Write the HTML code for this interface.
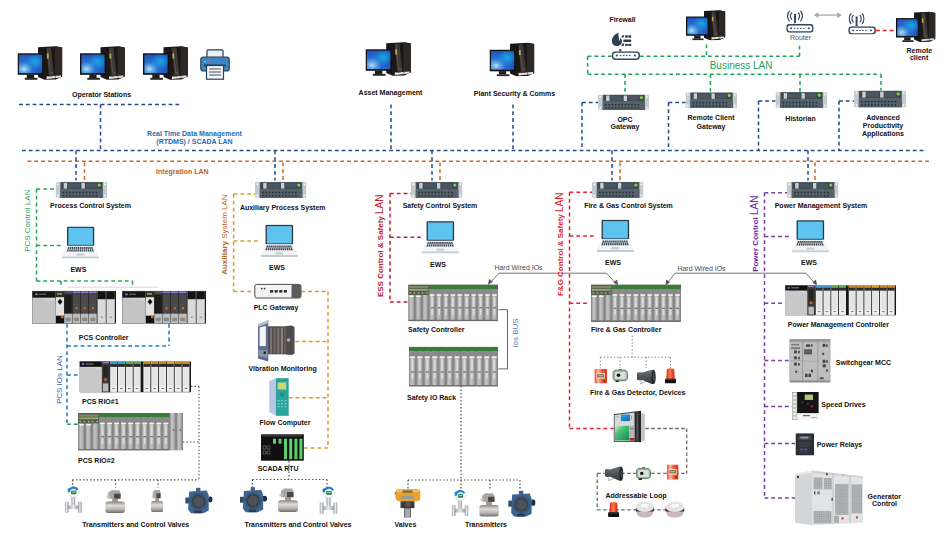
<!DOCTYPE html>
<html><head><meta charset="utf-8"><style>
html,body{margin:0;padding:0;background:#fff;}
svg{display:block;font-family:"Liberation Sans",sans-serif;}
</style></head><body>
<svg width="948" height="533" viewBox="0 0 948 533">
<defs>
<radialGradient id="scr" cx="0.22" cy="0.78" r="0.85">
 <stop offset="0" stop-color="#b8e0f6"/><stop offset="0.18" stop-color="#6aaee6"/><stop offset="0.45" stop-color="#2a6fd0"/><stop offset="1" stop-color="#1c4fb8"/>
</radialGradient>
<radialGradient id="scr2" cx="0.72" cy="0.35" r="0.45">
 <stop offset="0" stop-color="#18b0ea" stop-opacity="0.9"/><stop offset="1" stop-color="#18b0ea" stop-opacity="0"/>
</radialGradient>
<symbol id="pc" viewBox="0 0 45 34" preserveAspectRatio="none">
 <polygon points="20.5,1.2 38,0.2 44.8,1.6 44.8,30.5 38,33.5 27,33.8 20.5,31" fill="#1b1714"/>
 <polygon points="38,0.2 44.8,1.6 44.8,30.5 38,33.5" fill="#2d2824"/>
 <rect x="33.5" y="26" width="1.8" height="1.8" fill="#8d7a40"/>
 <polygon points="29,30.6 43.5,29.6 43.5,31.4 29,33" fill="#e4e4e4"/>
 <line x1="38" y1="1" x2="38" y2="32" stroke="#3a3632" stroke-width="0.5"/>
 <polygon points="29,2 33.5,1.6 36.5,30 31.5,31" fill="#4a4540" opacity="0.75"/>
 <line x1="30" y1="4" x2="33" y2="28" stroke="#6a625a" stroke-width="0.6"/>
 <rect x="29.4" y="7.5" width="1.8" height="5" fill="#c0a860"/>
 <rect x="0" y="7.3" width="26" height="21.5" fill="#0e0e10"/>
 <rect x="1.4" y="8.6" width="23.2" height="18.6" fill="url(#scr)"/>
 <rect x="1.4" y="8.6" width="23.2" height="18.6" fill="url(#scr2)"/>
 <rect x="9.3" y="28.6" width="7.3" height="3.4" fill="#1e1e1e"/>
 <rect x="7.3" y="31.8" width="12.6" height="2" fill="#2a2a2a"/>
</symbol>

<symbol id="srv" viewBox="0 0 52 16" preserveAspectRatio="none">
 <rect x="0" y="0.3" width="52" height="15.4" rx="1" fill="#c5cacf"/>
 <rect x="4.8" y="0" width="43" height="16" fill="#5b6872"/>
 <rect x="5.6" y="0.8" width="41.5" height="6.2" fill="#3c4750"/>
 <rect x="8.3" y="1.1" width="3.4" height="5.6" fill="#c9d0d5"/>
 <rect x="26.2" y="1.1" width="3.4" height="5.6" fill="#c9d0d5"/>
 <rect x="12.5" y="1.6" width="12.5" height="4.6" fill="#4b5760"/>
 <rect x="30.5" y="1.6" width="11" height="4.6" fill="#4b5760"/>
 <circle cx="44.2" cy="3.2" r="1.6" fill="#86d431"/>
 <rect x="4.8" y="7.6" width="43" height="8.4" fill="#56626b"/>
 <rect x="7.20" y="9.8" width="1.5" height="1.5" fill="#242c33"/><rect x="7.20" y="13.0" width="1.5" height="1.5" fill="#242c33"/><rect x="10.53" y="9.8" width="1.5" height="1.5" fill="#242c33"/><rect x="10.53" y="13.0" width="1.5" height="1.5" fill="#242c33"/><rect x="13.86" y="9.8" width="1.5" height="1.5" fill="#242c33"/><rect x="13.86" y="13.0" width="1.5" height="1.5" fill="#242c33"/><rect x="17.19" y="9.8" width="1.5" height="1.5" fill="#242c33"/><rect x="17.19" y="13.0" width="1.5" height="1.5" fill="#242c33"/><rect x="20.52" y="9.8" width="1.5" height="1.5" fill="#242c33"/><rect x="20.52" y="13.0" width="1.5" height="1.5" fill="#242c33"/><rect x="23.85" y="9.8" width="1.5" height="1.5" fill="#242c33"/><rect x="23.85" y="13.0" width="1.5" height="1.5" fill="#242c33"/><rect x="27.18" y="9.8" width="1.5" height="1.5" fill="#242c33"/><rect x="27.18" y="13.0" width="1.5" height="1.5" fill="#242c33"/><rect x="30.51" y="9.8" width="1.5" height="1.5" fill="#242c33"/><rect x="30.51" y="13.0" width="1.5" height="1.5" fill="#242c33"/><rect x="33.84" y="9.8" width="1.5" height="1.5" fill="#242c33"/><rect x="33.84" y="13.0" width="1.5" height="1.5" fill="#242c33"/><rect x="37.17" y="9.8" width="1.5" height="1.5" fill="#242c33"/><rect x="37.17" y="13.0" width="1.5" height="1.5" fill="#242c33"/><rect x="40.50" y="9.8" width="1.5" height="1.5" fill="#242c33"/><rect x="40.50" y="13.0" width="1.5" height="1.5" fill="#242c33"/>
 <circle cx="2.3" cy="2.4" r="0.9" fill="#fff"/><circle cx="2.3" cy="13.6" r="0.9" fill="#fff"/>
 <circle cx="49.8" cy="2.4" r="0.9" fill="#fff"/><circle cx="49.8" cy="13.6" r="0.9" fill="#fff"/>
</symbol>

<symbol id="lap" viewBox="0 0 37 32" preserveAspectRatio="none">
 <rect x="5" y="0.2" width="27.2" height="19.4" rx="1.2" fill="#2c3842"/>
 <rect x="6.3" y="1.5" width="24.6" height="17" fill="#5ec4ef"/>
 <polygon points="5,19.4 32.2,19.4 37,30.4 0,30.4" fill="#f1f3f5"/>
 <rect x="0" y="30" width="37" height="2" rx="0.6" fill="#c3cdd4"/>
 <polygon points="6.34,20.6 7.64,20.6 6.22,25.2 4.78,25.2" fill="#2f3b45"/><polygon points="8.23,20.6 9.53,20.6 8.36,25.2 6.92,25.2" fill="#2f3b45"/><polygon points="10.11,20.6 11.41,20.6 10.49,25.2 9.05,25.2" fill="#2f3b45"/><polygon points="12.00,20.6 13.30,20.6 12.62,25.2 11.18,25.2" fill="#2f3b45"/><polygon points="13.89,20.6 15.19,20.6 14.75,25.2 13.31,25.2" fill="#2f3b45"/><polygon points="15.77,20.6 17.07,20.6 16.88,25.2 15.44,25.2" fill="#2f3b45"/><polygon points="17.66,20.6 18.96,20.6 19.02,25.2 17.58,25.2" fill="#2f3b45"/><polygon points="19.54,20.6 20.84,20.6 21.15,25.2 19.71,25.2" fill="#2f3b45"/><polygon points="21.43,20.6 22.73,20.6 23.28,25.2 21.84,25.2" fill="#2f3b45"/><polygon points="23.32,20.6 24.62,20.6 25.41,25.2 23.97,25.2" fill="#2f3b45"/><polygon points="25.20,20.6 26.50,20.6 27.54,25.2 26.10,25.2" fill="#2f3b45"/><polygon points="27.09,20.6 28.39,20.6 29.68,25.2 28.24,25.2" fill="#2f3b45"/><polygon points="28.97,20.6 30.27,20.6 31.81,25.2 30.37,25.2" fill="#2f3b45"/>
 <line x1="5.5" y1="22.9" x2="31.5" y2="22.9" stroke="#f1f3f5" stroke-width="0.45"/>
 <polygon points="15,27 22,27 22.6,29.4 14.4,29.4" fill="#c6d1d9"/>
</symbol>

<symbol id="rbox" viewBox="0 0 28 9" preserveAspectRatio="none">
 <rect x="0.8" y="0.8" width="26.4" height="7.4" rx="3" fill="#fff" stroke="#34495e" stroke-width="1.5"/>
 <circle cx="5" cy="4.5" r="1" fill="#34495e"/>
 <circle cx="23" cy="4.5" r="1" fill="#34495e"/>
 <rect x="8" y="4" width="1.6" height="1" fill="#34495e"/>
 <rect x="11" y="4" width="1.6" height="1" fill="#34495e"/>
 <rect x="14" y="4" width="1.6" height="1" fill="#34495e"/>
 <rect x="17" y="4" width="1.6" height="1" fill="#34495e"/>
</symbol>
<symbol id="ant" viewBox="0 0 16 12" preserveAspectRatio="none">
 <rect x="7" y="3.5" width="2" height="8.5" fill="#34495e"/>
 <path d="M5,2.2 A4,4 0 0 0 5,8.6 M11,2.2 A4,4 0 0 1 11,8.6 M2.6,0.6 A6.5,6.5 0 0 0 2.6,10 M13.4,0.6 A6.5,6.5 0 0 1 13.4,10" fill="none" stroke="#34495e" stroke-width="1.2"/>
</symbol>

<symbol id="prn" viewBox="0 0 30 31" preserveAspectRatio="none">
 <rect x="7" y="0.8" width="16" height="9" rx="1" fill="#e8f0f8" stroke="#2d3e50" stroke-width="1.2"/>
 <rect x="0.8" y="8" width="28.4" height="14" rx="2.5" fill="#3b87c4" stroke="#2d3e50" stroke-width="1.2"/>
 <circle cx="5" cy="12.5" r="1.1" fill="#58d0b0"/><circle cx="8.5" cy="12.5" r="1.1" fill="#e85d5d"/>
 <rect x="4" y="15.5" width="22" height="2" fill="#2d3e50"/>
 <rect x="6.5" y="16.5" width="17" height="13.7" fill="#f4f6f8" stroke="#2d3e50" stroke-width="1.2"/>
 <line x1="9" y1="20" x2="21" y2="20" stroke="#2d3e50" stroke-width="0.9"/>
 <line x1="9" y1="23" x2="21" y2="23" stroke="#2d3e50" stroke-width="0.9"/>
 <line x1="9" y1="26" x2="21" y2="26" stroke="#2d3e50" stroke-width="0.9"/>
</symbol>
<symbol id="clx" viewBox="0 0 84 33" preserveAspectRatio="none"><rect x="0" y="0" width="84" height="33" fill="#1a1a1a"/><rect x="0.5" y="0.5" width="23" height="32" fill="#d5d5d5"/><rect x="0.5" y="0.5" width="23" height="6.5" fill="#151515"/><circle cx="4.5" cy="3.5" r="1.3" fill="#6a6ad8"/><rect x="7" y="3" width="7" height="1" fill="#777"/><path d="M0.5,7 Q12,8.5 23.5,10 L23.5,32.5 L0.5,32.5Z" fill="#c4c4c4"/><rect x="24" y="0.5" width="8" height="32" fill="#e2e2e2"/><rect x="24" y="0.5" width="8" height="6" fill="#2a2a2a"/><rect x="25" y="2.5" width="5" height="1.3" fill="#c8b040"/><path d="M28,8 l2.5,3 l-2.5,3 l-2.5,-3z" fill="#111"/><rect x="24" y="25" width="8" height="7.5" fill="#111"/><rect x="29" y="24.5" width="2.5" height="3" fill="#e07020"/><rect x="32.3" y="0.5" width="7.8" height="32" fill="#3c3c3c"/><rect x="32.3" y="0.5" width="7.8" height="2" fill="#555"/><rect x="32.699999999999996" y="4" width="7" height="19" fill="#1c1c1c"/><rect x="32.3" y="23" width="7.8" height="9.5" fill="#bdbdbd"/><rect x="33.599999999999994" y="27" width="5.2" height="3.6" rx="1" fill="#8a8a8a"/><rect x="40.5" y="0.5" width="7.8" height="32" fill="#3c3c3c"/><rect x="40.5" y="0.5" width="7.8" height="2" fill="#8a6cc8"/><rect x="40.9" y="4" width="7" height="19" fill="#4a4a4a"/><rect x="43.5" y="16.5" width="2" height="2" fill="#e86a1a"/><rect x="40.5" y="23" width="7.8" height="9.5" fill="#bdbdbd"/><rect x="41.8" y="27" width="5.2" height="3.6" rx="1" fill="#8a8a8a"/><rect x="48.699999999999996" y="0.5" width="7.8" height="32" fill="#3c3c3c"/><rect x="48.699999999999996" y="0.5" width="7.8" height="2" fill="#8a6cc8"/><rect x="49.099999999999994" y="4" width="7" height="19" fill="#4a4a4a"/><rect x="51.699999999999996" y="16.5" width="2" height="2" fill="#e86a1a"/><rect x="48.699999999999996" y="23" width="7.8" height="9.5" fill="#bdbdbd"/><rect x="49.99999999999999" y="27" width="5.2" height="3.6" rx="1" fill="#8a8a8a"/><rect x="56.89999999999999" y="0.5" width="7.8" height="32" fill="#3c3c3c"/><rect x="56.89999999999999" y="0.5" width="7.8" height="2" fill="#8a6cc8"/><rect x="57.29999999999999" y="4" width="7" height="19" fill="#4a4a4a"/><rect x="59.89999999999999" y="16.5" width="2" height="2" fill="#e86a1a"/><rect x="56.89999999999999" y="23" width="7.8" height="9.5" fill="#bdbdbd"/><rect x="58.19999999999999" y="27" width="5.2" height="3.6" rx="1" fill="#8a8a8a"/><rect x="65.5" y="0.5" width="8.3" height="32" fill="#d9d9d9"/><rect x="65.5" y="0.5" width="8.3" height="8" fill="#141414"/><rect x="68.5" y="26" width="2.5" height="1" fill="#888"/><rect x="74.5" y="0.5" width="8.3" height="32" fill="#d9d9d9"/><rect x="74.5" y="0.5" width="8.3" height="8" fill="#141414"/><rect x="77.5" y="26" width="2.5" height="1" fill="#888"/></symbol><symbol id="cmpx" viewBox="0 0 112 31" preserveAspectRatio="none"><rect x="0" y="0" width="112" height="31" fill="#161616"/><rect x="0" y="0" width="22.5" height="31" fill="#d2d2d2"/><rect x="0" y="0" width="22.5" height="5.5" fill="#121212"/><circle cx="3.5" cy="2.7" r="1.2" fill="#7070e0"/><rect x="6" y="2.2" width="8" height="1" fill="#888"/><path d="M0,5.5 Q11,7 22.5,8 L22.5,31 L0,31Z" fill="#c8c8c8"/><rect x="22.5" y="0" width="7.5" height="31" fill="#3a3a3a"/><rect x="23" y="0" width="6.5" height="2" fill="#9a78c8"/><rect x="24" y="4" width="4.5" height="12" fill="#252525"/><rect x="25" y="17" width="2.2" height="2.2" fill="#e86a1a"/><rect x="23.5" y="22" width="5.5" height="8" fill="#bbb"/><rect x="30.8" y="0.4" width="7" height="30" fill="#f2f2f2"/><rect x="30.8" y="0.4" width="7" height="2" fill="#3a9ad8"/><rect x="30.8" y="2.4" width="7" height="3.2" fill="#2e2e2e"/><rect x="31.6" y="6" width="5.4" height="19" fill="#e4e4e4"/><rect x="33.0" y="26.5" width="2.6" height="1" fill="#777"/><rect x="38.65" y="0.4" width="7" height="30" fill="#f2f2f2"/><rect x="38.65" y="0.4" width="7" height="2" fill="#3a9ad8"/><rect x="38.65" y="2.4" width="7" height="3.2" fill="#2e2e2e"/><rect x="39.449999999999996" y="6" width="5.4" height="19" fill="#e4e4e4"/><rect x="40.85" y="26.5" width="2.6" height="1" fill="#777"/><rect x="46.5" y="0.4" width="7" height="30" fill="#f2f2f2"/><rect x="46.5" y="0.4" width="7" height="2" fill="#60b040"/><rect x="46.5" y="2.4" width="7" height="3.2" fill="#2e2e2e"/><rect x="47.3" y="6" width="5.4" height="19" fill="#e4e4e4"/><rect x="48.7" y="26.5" width="2.6" height="1" fill="#777"/><rect x="54.349999999999994" y="0.4" width="7" height="30" fill="#f2f2f2"/><rect x="54.349999999999994" y="0.4" width="7" height="2" fill="#60b040"/><rect x="54.349999999999994" y="2.4" width="7" height="3.2" fill="#2e2e2e"/><rect x="55.14999999999999" y="6" width="5.4" height="19" fill="#e4e4e4"/><rect x="56.55" y="26.5" width="2.6" height="1" fill="#777"/><rect x="64.2" y="0.4" width="7" height="30" fill="#f2f2f2"/><rect x="64.2" y="0.4" width="7" height="2" fill="#d08a20"/><rect x="64.2" y="2.4" width="7" height="3.2" fill="#2e2e2e"/><rect x="65.0" y="6" width="5.4" height="19" fill="#e4e4e4"/><rect x="66.4" y="26.5" width="2.6" height="1" fill="#777"/><rect x="72.05" y="0.4" width="7" height="30" fill="#f2f2f2"/><rect x="72.05" y="0.4" width="7" height="2" fill="#d08a20"/><rect x="72.05" y="2.4" width="7" height="3.2" fill="#2e2e2e"/><rect x="72.85" y="6" width="5.4" height="19" fill="#e4e4e4"/><rect x="74.25" y="26.5" width="2.6" height="1" fill="#777"/><rect x="79.9" y="0.4" width="7" height="30" fill="#f2f2f2"/><rect x="79.9" y="0.4" width="7" height="2" fill="#d08a20"/><rect x="79.9" y="2.4" width="7" height="3.2" fill="#2e2e2e"/><rect x="80.7" y="6" width="5.4" height="19" fill="#e4e4e4"/><rect x="82.10000000000001" y="26.5" width="2.6" height="1" fill="#777"/><rect x="87.75" y="0.4" width="7" height="30" fill="#f2f2f2"/><rect x="87.75" y="0.4" width="7" height="2" fill="#e0b020"/><rect x="87.75" y="2.4" width="7" height="3.2" fill="#2e2e2e"/><rect x="88.55" y="6" width="5.4" height="19" fill="#e4e4e4"/><rect x="89.95" y="26.5" width="2.6" height="1" fill="#777"/><rect x="95.6" y="0.4" width="7" height="30" fill="#f2f2f2"/><rect x="95.6" y="0.4" width="7" height="2" fill="#d08a20"/><rect x="95.6" y="2.4" width="7" height="3.2" fill="#2e2e2e"/><rect x="96.39999999999999" y="6" width="5.4" height="19" fill="#e4e4e4"/><rect x="97.8" y="26.5" width="2.6" height="1" fill="#777"/><rect x="103.45" y="0.4" width="7" height="30" fill="#f2f2f2"/><rect x="103.45" y="0.4" width="7" height="2" fill="#d08a20"/><rect x="103.45" y="2.4" width="7" height="3.2" fill="#2e2e2e"/><rect x="104.25" y="6" width="5.4" height="19" fill="#e4e4e4"/><rect x="105.65" y="26.5" width="2.6" height="1" fill="#777"/></symbol><symbol id="sfc" viewBox="0 0 90 36.8" preserveAspectRatio="none"><linearGradient id="gsfc" x1="0" y1="0" x2="1" y2="0"><stop offset="0" stop-color="#858585"/><stop offset="0.3" stop-color="#c4c4c4"/><stop offset="0.7" stop-color="#b2b2b2"/><stop offset="1" stop-color="#7a7a7a"/></linearGradient><rect x="0" y="0" width="90" height="36.8" fill="#8c8c8c"/><rect x="0" y="0" width="20.6" height="10.5" fill="#56604e"/><rect x="0.6" y="1.5" width="19.400000000000002" height="2.2" fill="#7c8a6a"/><rect x="1.50" y="7.90" width="1.4" height="1.2" fill="#c8c080"/><rect x="5.62" y="7.90" width="1.4" height="1.2" fill="#c8c080"/><rect x="9.74" y="7.90" width="1.4" height="1.2" fill="#c8c080"/><rect x="13.86" y="7.90" width="1.4" height="1.2" fill="#c8c080"/><rect x="17.98" y="7.90" width="1.4" height="1.2" fill="#c8c080"/><rect x="1" y="4.5" width="18.6" height="1.6" fill="#a0a878"/><rect x="0.40" y="10.5" width="6.07" height="24.80" fill="url(#gsfc)"/><rect x="1.00" y="11.00" width="4.87" height="1.5" rx="0.7" fill="#f4f4f4"/><rect x="7.27" y="10.5" width="6.07" height="24.80" fill="url(#gsfc)"/><rect x="7.87" y="11.00" width="4.87" height="1.5" rx="0.7" fill="#f4f4f4"/><rect x="14.13" y="10.5" width="6.07" height="24.80" fill="url(#gsfc)"/><rect x="20.6" y="0" width="69.4" height="4.5" fill="#3b7a3b"/><rect x="20.95" y="4.5" width="6.24" height="30.80" fill="url(#gsfc)"/><rect x="20.95" y="4.5" width="6.24" height="5" fill="#8a8a8a"/><rect x="21.60" y="9.70" width="4.94" height="1.6" rx="0.8" fill="#f6f6f8"/><rect x="23.24" y="12.50" width="1.67" height="17.77" fill="#dcdcdc"/><rect x="22.68" y="22.82" width="2.78" height="1" fill="#555"/><rect x="27.89" y="4.5" width="6.24" height="30.80" fill="url(#gsfc)"/><rect x="27.89" y="4.5" width="6.24" height="5" fill="#8a8a8a"/><rect x="28.54" y="9.70" width="4.94" height="1.6" rx="0.8" fill="#f6f6f8"/><rect x="30.18" y="12.50" width="1.67" height="17.77" fill="#dcdcdc"/><rect x="29.62" y="22.82" width="2.78" height="1" fill="#555"/><rect x="34.83" y="4.5" width="6.24" height="30.80" fill="url(#gsfc)"/><rect x="34.83" y="4.5" width="6.24" height="5" fill="#8a8a8a"/><rect x="35.48" y="9.70" width="4.94" height="1.6" rx="0.8" fill="#f6f6f8"/><rect x="37.12" y="12.50" width="1.67" height="17.77" fill="#dcdcdc"/><rect x="36.56" y="22.82" width="2.78" height="1" fill="#555"/><rect x="41.77" y="4.5" width="6.24" height="30.80" fill="url(#gsfc)"/><rect x="41.77" y="4.5" width="6.24" height="5" fill="#8a8a8a"/><rect x="42.42" y="9.70" width="4.94" height="1.6" rx="0.8" fill="#f6f6f8"/><rect x="44.06" y="12.50" width="1.67" height="17.77" fill="#dcdcdc"/><rect x="43.50" y="22.82" width="2.78" height="1" fill="#555"/><rect x="48.71" y="4.5" width="6.24" height="30.80" fill="url(#gsfc)"/><rect x="48.71" y="4.5" width="6.24" height="5" fill="#8a8a8a"/><rect x="49.36" y="9.70" width="4.94" height="1.6" rx="0.8" fill="#f6f6f8"/><rect x="51.00" y="12.50" width="1.67" height="17.77" fill="#dcdcdc"/><rect x="50.44" y="22.82" width="2.78" height="1" fill="#555"/><rect x="55.65" y="4.5" width="6.24" height="30.80" fill="url(#gsfc)"/><rect x="55.65" y="4.5" width="6.24" height="5" fill="#8a8a8a"/><rect x="56.30" y="9.70" width="4.94" height="1.6" rx="0.8" fill="#f6f6f8"/><rect x="57.94" y="12.50" width="1.67" height="17.77" fill="#dcdcdc"/><rect x="57.38" y="22.82" width="2.78" height="1" fill="#555"/><rect x="62.59" y="4.5" width="6.24" height="30.80" fill="url(#gsfc)"/><rect x="62.59" y="4.5" width="6.24" height="5" fill="#8a8a8a"/><rect x="63.24" y="9.70" width="4.94" height="1.6" rx="0.8" fill="#f6f6f8"/><rect x="64.88" y="12.50" width="1.67" height="17.77" fill="#dcdcdc"/><rect x="64.32" y="22.82" width="2.78" height="1" fill="#555"/><rect x="69.53" y="4.5" width="6.24" height="30.80" fill="url(#gsfc)"/><rect x="69.53" y="4.5" width="6.24" height="5" fill="#8a8a8a"/><rect x="70.18" y="9.70" width="4.94" height="1.6" rx="0.8" fill="#f6f6f8"/><rect x="71.82" y="12.50" width="1.67" height="17.77" fill="#dcdcdc"/><rect x="71.26" y="22.82" width="2.78" height="1" fill="#555"/><rect x="76.47" y="4.5" width="6.24" height="30.80" fill="url(#gsfc)"/><rect x="76.47" y="4.5" width="6.24" height="5" fill="#8a8a8a"/><rect x="77.12" y="9.70" width="4.94" height="1.6" rx="0.8" fill="#f6f6f8"/><rect x="78.76" y="12.50" width="1.67" height="17.77" fill="#dcdcdc"/><rect x="78.20" y="22.82" width="2.78" height="1" fill="#555"/><rect x="83.41" y="4.5" width="6.24" height="30.80" fill="url(#gsfc)"/><rect x="83.41" y="4.5" width="6.24" height="5" fill="#8a8a8a"/><rect x="84.06" y="9.70" width="4.94" height="1.6" rx="0.8" fill="#f6f6f8"/><rect x="85.70" y="12.50" width="1.67" height="17.77" fill="#dcdcdc"/><rect x="85.14" y="22.82" width="2.78" height="1" fill="#555"/><rect x="0" y="35.3" width="90" height="1.5" fill="#6e6e6e"/></symbol><symbol id="sio" viewBox="0 0 89.2 39.8" preserveAspectRatio="none"><linearGradient id="gsio" x1="0" y1="0" x2="1" y2="0"><stop offset="0" stop-color="#858585"/><stop offset="0.3" stop-color="#c4c4c4"/><stop offset="0.7" stop-color="#b2b2b2"/><stop offset="1" stop-color="#7a7a7a"/></linearGradient><rect x="0" y="0" width="89.2" height="39.8" fill="#8c8c8c"/><rect x="0" y="0" width="89.2" height="4.5" fill="#3b7a3b"/><rect x="0.35" y="4.5" width="6.73" height="33.80" fill="url(#gsio)"/><rect x="0.35" y="4.5" width="6.73" height="5" fill="#8a8a8a"/><rect x="1.00" y="9.70" width="5.43" height="1.6" rx="0.8" fill="#f6f6f8"/><rect x="2.82" y="12.50" width="1.78" height="19.41" fill="#dcdcdc"/><rect x="2.23" y="24.68" width="2.97" height="1" fill="#555"/><rect x="7.78" y="4.5" width="6.73" height="33.80" fill="url(#gsio)"/><rect x="7.78" y="4.5" width="6.73" height="5" fill="#8a8a8a"/><rect x="8.43" y="9.70" width="5.43" height="1.6" rx="0.8" fill="#f6f6f8"/><rect x="10.26" y="12.50" width="1.78" height="19.41" fill="#dcdcdc"/><rect x="9.66" y="24.68" width="2.97" height="1" fill="#555"/><rect x="15.22" y="4.5" width="6.73" height="33.80" fill="url(#gsio)"/><rect x="15.22" y="4.5" width="6.73" height="5" fill="#8a8a8a"/><rect x="15.87" y="9.70" width="5.43" height="1.6" rx="0.8" fill="#f6f6f8"/><rect x="17.69" y="12.50" width="1.78" height="19.41" fill="#dcdcdc"/><rect x="17.10" y="24.68" width="2.97" height="1" fill="#555"/><rect x="22.65" y="4.5" width="6.73" height="33.80" fill="url(#gsio)"/><rect x="22.65" y="4.5" width="6.73" height="5" fill="#8a8a8a"/><rect x="23.30" y="9.70" width="5.43" height="1.6" rx="0.8" fill="#f6f6f8"/><rect x="25.12" y="12.50" width="1.78" height="19.41" fill="#dcdcdc"/><rect x="24.53" y="24.68" width="2.97" height="1" fill="#555"/><rect x="30.08" y="4.5" width="6.73" height="33.80" fill="url(#gsio)"/><rect x="30.08" y="4.5" width="6.73" height="5" fill="#8a8a8a"/><rect x="30.73" y="9.70" width="5.43" height="1.6" rx="0.8" fill="#f6f6f8"/><rect x="32.56" y="12.50" width="1.78" height="19.41" fill="#dcdcdc"/><rect x="31.96" y="24.68" width="2.97" height="1" fill="#555"/><rect x="37.52" y="4.5" width="6.73" height="33.80" fill="url(#gsio)"/><rect x="37.52" y="4.5" width="6.73" height="5" fill="#8a8a8a"/><rect x="38.17" y="9.70" width="5.43" height="1.6" rx="0.8" fill="#f6f6f8"/><rect x="39.99" y="12.50" width="1.78" height="19.41" fill="#dcdcdc"/><rect x="39.40" y="24.68" width="2.97" height="1" fill="#555"/><rect x="44.95" y="4.5" width="6.73" height="33.80" fill="url(#gsio)"/><rect x="44.95" y="4.5" width="6.73" height="5" fill="#8a8a8a"/><rect x="45.60" y="9.70" width="5.43" height="1.6" rx="0.8" fill="#f6f6f8"/><rect x="47.42" y="12.50" width="1.78" height="19.41" fill="#dcdcdc"/><rect x="46.83" y="24.68" width="2.97" height="1" fill="#555"/><rect x="52.38" y="4.5" width="6.73" height="33.80" fill="url(#gsio)"/><rect x="52.38" y="4.5" width="6.73" height="5" fill="#8a8a8a"/><rect x="53.03" y="9.70" width="5.43" height="1.6" rx="0.8" fill="#f6f6f8"/><rect x="54.86" y="12.50" width="1.78" height="19.41" fill="#dcdcdc"/><rect x="54.26" y="24.68" width="2.97" height="1" fill="#555"/><rect x="59.82" y="4.5" width="6.73" height="33.80" fill="url(#gsio)"/><rect x="59.82" y="4.5" width="6.73" height="5" fill="#8a8a8a"/><rect x="60.47" y="9.70" width="5.43" height="1.6" rx="0.8" fill="#f6f6f8"/><rect x="62.29" y="12.50" width="1.78" height="19.41" fill="#dcdcdc"/><rect x="61.70" y="24.68" width="2.97" height="1" fill="#555"/><rect x="67.25" y="4.5" width="6.73" height="33.80" fill="url(#gsio)"/><rect x="67.25" y="4.5" width="6.73" height="5" fill="#8a8a8a"/><rect x="67.90" y="9.70" width="5.43" height="1.6" rx="0.8" fill="#f6f6f8"/><rect x="69.72" y="12.50" width="1.78" height="19.41" fill="#dcdcdc"/><rect x="69.13" y="24.68" width="2.97" height="1" fill="#555"/><rect x="74.68" y="4.5" width="6.73" height="33.80" fill="url(#gsio)"/><rect x="74.68" y="4.5" width="6.73" height="5" fill="#8a8a8a"/><rect x="75.33" y="9.70" width="5.43" height="1.6" rx="0.8" fill="#f6f6f8"/><rect x="77.16" y="12.50" width="1.78" height="19.41" fill="#dcdcdc"/><rect x="76.56" y="24.68" width="2.97" height="1" fill="#555"/><rect x="82.12" y="4.5" width="6.73" height="33.80" fill="url(#gsio)"/><rect x="82.12" y="4.5" width="6.73" height="5" fill="#8a8a8a"/><rect x="82.77" y="9.70" width="5.43" height="1.6" rx="0.8" fill="#f6f6f8"/><rect x="84.59" y="12.50" width="1.78" height="19.41" fill="#dcdcdc"/><rect x="84.00" y="24.68" width="2.97" height="1" fill="#555"/><rect x="0" y="38.3" width="89.2" height="1.5" fill="#6e6e6e"/></symbol><symbol id="fgc" viewBox="0 0 90 37.5" preserveAspectRatio="none"><linearGradient id="gfgc" x1="0" y1="0" x2="1" y2="0"><stop offset="0" stop-color="#858585"/><stop offset="0.3" stop-color="#c4c4c4"/><stop offset="0.7" stop-color="#b2b2b2"/><stop offset="1" stop-color="#7a7a7a"/></linearGradient><rect x="0" y="0" width="90" height="37.5" fill="#8c8c8c"/><rect x="0" y="0" width="20.6" height="10.5" fill="#56604e"/><rect x="0.6" y="1.5" width="19.400000000000002" height="2.2" fill="#7c8a6a"/><rect x="1.50" y="7.90" width="1.4" height="1.2" fill="#c8c080"/><rect x="5.62" y="7.90" width="1.4" height="1.2" fill="#c8c080"/><rect x="9.74" y="7.90" width="1.4" height="1.2" fill="#c8c080"/><rect x="13.86" y="7.90" width="1.4" height="1.2" fill="#c8c080"/><rect x="17.98" y="7.90" width="1.4" height="1.2" fill="#c8c080"/><rect x="1" y="4.5" width="18.6" height="1.6" fill="#a0a878"/><rect x="0.40" y="10.5" width="6.07" height="25.50" fill="url(#gfgc)"/><rect x="1.00" y="11.00" width="4.87" height="1.5" rx="0.7" fill="#f4f4f4"/><rect x="7.27" y="10.5" width="6.07" height="25.50" fill="url(#gfgc)"/><rect x="7.87" y="11.00" width="4.87" height="1.5" rx="0.7" fill="#f4f4f4"/><rect x="14.13" y="10.5" width="6.07" height="25.50" fill="url(#gfgc)"/><rect x="20.6" y="0" width="69.4" height="4.5" fill="#3b7a3b"/><rect x="20.95" y="4.5" width="6.24" height="31.50" fill="url(#gfgc)"/><rect x="20.95" y="4.5" width="6.24" height="5" fill="#8a8a8a"/><rect x="21.60" y="9.70" width="4.94" height="1.6" rx="0.8" fill="#f6f6f8"/><rect x="23.24" y="12.50" width="1.67" height="18.15" fill="#dcdcdc"/><rect x="22.68" y="23.25" width="2.78" height="1" fill="#555"/><rect x="27.89" y="4.5" width="6.24" height="31.50" fill="url(#gfgc)"/><rect x="27.89" y="4.5" width="6.24" height="5" fill="#8a8a8a"/><rect x="28.54" y="9.70" width="4.94" height="1.6" rx="0.8" fill="#f6f6f8"/><rect x="30.18" y="12.50" width="1.67" height="18.15" fill="#dcdcdc"/><rect x="29.62" y="23.25" width="2.78" height="1" fill="#555"/><rect x="34.83" y="4.5" width="6.24" height="31.50" fill="url(#gfgc)"/><rect x="34.83" y="4.5" width="6.24" height="5" fill="#8a8a8a"/><rect x="35.48" y="9.70" width="4.94" height="1.6" rx="0.8" fill="#f6f6f8"/><rect x="37.12" y="12.50" width="1.67" height="18.15" fill="#dcdcdc"/><rect x="36.56" y="23.25" width="2.78" height="1" fill="#555"/><rect x="41.77" y="4.5" width="6.24" height="31.50" fill="url(#gfgc)"/><rect x="41.77" y="4.5" width="6.24" height="5" fill="#8a8a8a"/><rect x="42.42" y="9.70" width="4.94" height="1.6" rx="0.8" fill="#f6f6f8"/><rect x="44.06" y="12.50" width="1.67" height="18.15" fill="#dcdcdc"/><rect x="43.50" y="23.25" width="2.78" height="1" fill="#555"/><rect x="48.71" y="4.5" width="6.24" height="31.50" fill="url(#gfgc)"/><rect x="48.71" y="4.5" width="6.24" height="5" fill="#8a8a8a"/><rect x="49.36" y="9.70" width="4.94" height="1.6" rx="0.8" fill="#f6f6f8"/><rect x="51.00" y="12.50" width="1.67" height="18.15" fill="#dcdcdc"/><rect x="50.44" y="23.25" width="2.78" height="1" fill="#555"/><rect x="55.65" y="4.5" width="6.24" height="31.50" fill="url(#gfgc)"/><rect x="55.65" y="4.5" width="6.24" height="5" fill="#8a8a8a"/><rect x="56.30" y="9.70" width="4.94" height="1.6" rx="0.8" fill="#f6f6f8"/><rect x="57.94" y="12.50" width="1.67" height="18.15" fill="#dcdcdc"/><rect x="57.38" y="23.25" width="2.78" height="1" fill="#555"/><rect x="62.59" y="4.5" width="6.24" height="31.50" fill="url(#gfgc)"/><rect x="62.59" y="4.5" width="6.24" height="5" fill="#8a8a8a"/><rect x="63.24" y="9.70" width="4.94" height="1.6" rx="0.8" fill="#f6f6f8"/><rect x="64.88" y="12.50" width="1.67" height="18.15" fill="#dcdcdc"/><rect x="64.32" y="23.25" width="2.78" height="1" fill="#555"/><rect x="69.53" y="4.5" width="6.24" height="31.50" fill="url(#gfgc)"/><rect x="69.53" y="4.5" width="6.24" height="5" fill="#8a8a8a"/><rect x="70.18" y="9.70" width="4.94" height="1.6" rx="0.8" fill="#f6f6f8"/><rect x="71.82" y="12.50" width="1.67" height="18.15" fill="#dcdcdc"/><rect x="71.26" y="23.25" width="2.78" height="1" fill="#555"/><rect x="76.47" y="4.5" width="6.24" height="31.50" fill="url(#gfgc)"/><rect x="76.47" y="4.5" width="6.24" height="5" fill="#8a8a8a"/><rect x="77.12" y="9.70" width="4.94" height="1.6" rx="0.8" fill="#f6f6f8"/><rect x="78.76" y="12.50" width="1.67" height="18.15" fill="#dcdcdc"/><rect x="78.20" y="23.25" width="2.78" height="1" fill="#555"/><rect x="83.41" y="4.5" width="6.24" height="31.50" fill="url(#gfgc)"/><rect x="83.41" y="4.5" width="6.24" height="5" fill="#8a8a8a"/><rect x="84.06" y="9.70" width="4.94" height="1.6" rx="0.8" fill="#f6f6f8"/><rect x="85.70" y="12.50" width="1.67" height="18.15" fill="#dcdcdc"/><rect x="85.14" y="23.25" width="2.78" height="1" fill="#555"/><rect x="0" y="36.0" width="90" height="1.5" fill="#6e6e6e"/></symbol><symbol id="rio2" viewBox="0 0 105 37.5" preserveAspectRatio="none"><linearGradient id="grio2" x1="0" y1="0" x2="1" y2="0"><stop offset="0" stop-color="#858585"/><stop offset="0.3" stop-color="#c4c4c4"/><stop offset="0.7" stop-color="#b2b2b2"/><stop offset="1" stop-color="#7a7a7a"/></linearGradient><rect x="0" y="0" width="105" height="37.5" fill="#8c8c8c"/><rect x="0" y="0" width="21" height="10.5" fill="#56604e"/><rect x="0.6" y="1.5" width="19.8" height="2.2" fill="#7c8a6a"/><rect x="1.50" y="7.90" width="1.4" height="1.2" fill="#c8c080"/><rect x="5.70" y="7.90" width="1.4" height="1.2" fill="#c8c080"/><rect x="9.90" y="7.90" width="1.4" height="1.2" fill="#c8c080"/><rect x="14.10" y="7.90" width="1.4" height="1.2" fill="#c8c080"/><rect x="18.30" y="7.90" width="1.4" height="1.2" fill="#c8c080"/><rect x="1" y="4.5" width="19" height="1.6" fill="#a0a878"/><rect x="0.40" y="10.5" width="6.20" height="25.50" fill="url(#grio2)"/><rect x="1.00" y="11.00" width="5.00" height="1.5" rx="0.7" fill="#f4f4f4"/><rect x="7.40" y="10.5" width="6.20" height="25.50" fill="url(#grio2)"/><rect x="8.00" y="11.00" width="5.00" height="1.5" rx="0.7" fill="#f4f4f4"/><rect x="14.40" y="10.5" width="6.20" height="25.50" fill="url(#grio2)"/><rect x="21" y="0" width="70.4" height="4.5" fill="#3b7a3b"/><rect x="21.35" y="4.5" width="6.34" height="31.50" fill="url(#grio2)"/><rect x="21.35" y="4.5" width="6.34" height="5" fill="#8a8a8a"/><rect x="22.00" y="9.70" width="5.04" height="1.6" rx="0.8" fill="#f6f6f8"/><rect x="23.68" y="12.50" width="1.69" height="18.15" fill="#dcdcdc"/><rect x="23.11" y="23.25" width="2.82" height="1" fill="#555"/><rect x="28.39" y="4.5" width="6.34" height="31.50" fill="url(#grio2)"/><rect x="28.39" y="4.5" width="6.34" height="5" fill="#8a8a8a"/><rect x="29.04" y="9.70" width="5.04" height="1.6" rx="0.8" fill="#f6f6f8"/><rect x="30.72" y="12.50" width="1.69" height="18.15" fill="#dcdcdc"/><rect x="30.15" y="23.25" width="2.82" height="1" fill="#555"/><rect x="35.43" y="4.5" width="6.34" height="31.50" fill="url(#grio2)"/><rect x="35.43" y="4.5" width="6.34" height="5" fill="#8a8a8a"/><rect x="36.08" y="9.70" width="5.04" height="1.6" rx="0.8" fill="#f6f6f8"/><rect x="37.76" y="12.50" width="1.69" height="18.15" fill="#dcdcdc"/><rect x="37.19" y="23.25" width="2.82" height="1" fill="#555"/><rect x="42.47" y="4.5" width="6.34" height="31.50" fill="url(#grio2)"/><rect x="42.47" y="4.5" width="6.34" height="5" fill="#8a8a8a"/><rect x="43.12" y="9.70" width="5.04" height="1.6" rx="0.8" fill="#f6f6f8"/><rect x="44.80" y="12.50" width="1.69" height="18.15" fill="#dcdcdc"/><rect x="44.23" y="23.25" width="2.82" height="1" fill="#555"/><rect x="49.51" y="4.5" width="6.34" height="31.50" fill="url(#grio2)"/><rect x="49.51" y="4.5" width="6.34" height="5" fill="#8a8a8a"/><rect x="50.16" y="9.70" width="5.04" height="1.6" rx="0.8" fill="#f6f6f8"/><rect x="51.84" y="12.50" width="1.69" height="18.15" fill="#dcdcdc"/><rect x="51.27" y="23.25" width="2.82" height="1" fill="#555"/><rect x="56.55" y="4.5" width="6.34" height="31.50" fill="url(#grio2)"/><rect x="56.55" y="4.5" width="6.34" height="5" fill="#8a8a8a"/><rect x="57.20" y="9.70" width="5.04" height="1.6" rx="0.8" fill="#f6f6f8"/><rect x="58.88" y="12.50" width="1.69" height="18.15" fill="#dcdcdc"/><rect x="58.31" y="23.25" width="2.82" height="1" fill="#555"/><rect x="63.59" y="4.5" width="6.34" height="31.50" fill="url(#grio2)"/><rect x="63.59" y="4.5" width="6.34" height="5" fill="#8a8a8a"/><rect x="64.24" y="9.70" width="5.04" height="1.6" rx="0.8" fill="#f6f6f8"/><rect x="65.92" y="12.50" width="1.69" height="18.15" fill="#dcdcdc"/><rect x="65.35" y="23.25" width="2.82" height="1" fill="#555"/><rect x="70.63" y="4.5" width="6.34" height="31.50" fill="url(#grio2)"/><rect x="70.63" y="4.5" width="6.34" height="5" fill="#8a8a8a"/><rect x="71.28" y="9.70" width="5.04" height="1.6" rx="0.8" fill="#f6f6f8"/><rect x="72.96" y="12.50" width="1.69" height="18.15" fill="#dcdcdc"/><rect x="72.39" y="23.25" width="2.82" height="1" fill="#555"/><rect x="77.67" y="4.5" width="6.34" height="31.50" fill="url(#grio2)"/><rect x="77.67" y="4.5" width="6.34" height="5" fill="#8a8a8a"/><rect x="78.32" y="9.70" width="5.04" height="1.6" rx="0.8" fill="#f6f6f8"/><rect x="80.00" y="12.50" width="1.69" height="18.15" fill="#dcdcdc"/><rect x="79.43" y="23.25" width="2.82" height="1" fill="#555"/><rect x="84.71" y="4.5" width="6.34" height="31.50" fill="url(#grio2)"/><rect x="84.71" y="4.5" width="6.34" height="5" fill="#8a8a8a"/><rect x="85.36" y="9.70" width="5.04" height="1.6" rx="0.8" fill="#f6f6f8"/><rect x="87.04" y="12.50" width="1.69" height="18.15" fill="#dcdcdc"/><rect x="86.47" y="23.25" width="2.82" height="1" fill="#555"/><rect x="91.7" y="0" width="6.20" height="37.0" fill="url(#grio2)"/><rect x="98.50" y="0" width="6.20" height="37.0" fill="url(#grio2)"/><circle cx="95.48" cy="16.88" r="0.7" fill="#333"/><circle cx="102.28" cy="16.88" r="0.7" fill="#333"/><rect x="0" y="36.0" width="91.4" height="1.5" fill="#6e6e6e"/></symbol>
<linearGradient id="flg" x1="0" y1="0" x2="1" y2="0"><stop offset="0" stop-color="#9a9ea2"/><stop offset="0.5" stop-color="#e6e8ea"/><stop offset="1" stop-color="#8c9094"/></linearGradient>
<linearGradient id="mgg" x1="0" y1="0" x2="0" y2="1"><stop offset="0" stop-color="#8a8580"/><stop offset="0.35" stop-color="#e0ddd8"/><stop offset="0.7" stop-color="#b8b3ad"/><stop offset="1" stop-color="#6f6a66"/></linearGradient>
<symbol id="fm" viewBox="0 0 17 28" preserveAspectRatio="none">
 <rect x="6.6" y="10" width="3.8" height="10" fill="url(#flg)"/>
 <rect x="2.5" y="19.8" width="12" height="3.8" fill="url(#flg)"/>
 <rect x="0" y="16" width="3.8" height="11.5" rx="0.8" fill="url(#flg)"/>
 <rect x="13.2" y="16" width="3.8" height="11.5" rx="0.8" fill="url(#flg)"/>
 <circle cx="8.8" cy="6.2" r="5.4" fill="#f3f5f7" stroke="#c8ccd0" stroke-width="0.4"/>
 <path d="M3.4,6 A5.4,5.4 0 0 1 13.6,3.6 L12,4.6 A3.8,3.8 0 0 0 5,6.2Z" fill="#1f7fd6"/>
 <rect x="3" y="2.5" width="2" height="4" rx="0.8" fill="#1f7fd6"/>
 <rect x="6.2" y="4.8" width="5.4" height="3.8" rx="0.8" fill="#2e7a52"/>
 <rect x="6.9" y="5.6" width="4" height="1.3" fill="#8ad89a"/>
</symbol>
<symbol id="mag" viewBox="0 0 20 24" preserveAspectRatio="none">
 <rect x="0" y="12" width="20" height="11.5" rx="3" fill="url(#mgg)"/>
 <rect x="7" y="8" width="6" height="5" fill="#9d9893"/>
 <path d="M3,3 L6,0.5 L14,0.5 L15.5,3 L15.5,9 L3,9Z" fill="#a9a6a2"/>
 <rect x="9" y="4" width="6.5" height="5" fill="#4a4744"/>
 <rect x="1.5" y="5.5" width="3" height="2.5" fill="#c8c5c1"/>
</symbol>
<symbol id="tx" viewBox="0 0 28 26" preserveAspectRatio="none">
 <rect x="11" y="0" width="4.5" height="4" rx="1" fill="#3d6189"/>
 <rect x="0" y="10" width="4.5" height="6" fill="#2f4a6a"/>
 <rect x="23" y="9" width="5" height="6" rx="2.5" fill="#1f2f44"/>
 <path d="M4,4 L22,3 L24,8 L24,23 L18,26 L6,26 L3,22Z" fill="#3f658e"/>
 <circle cx="13.5" cy="14" r="9" fill="#35587f"/>
 <circle cx="13.5" cy="14" r="7" fill="#3a4048"/>
 <circle cx="13.5" cy="14" r="5.2" fill="#4b525c"/>
 <rect x="9" y="23" width="8" height="3" fill="#2a3a50"/>
</symbol>
<symbol id="valve" viewBox="0 0 26 30" preserveAspectRatio="none">
 <rect x="0" y="4" width="2" height="2" fill="#444"/>
 <rect x="1" y="0.5" width="25" height="12.5" rx="4" fill="#e8a22e"/>
 <rect x="2" y="1" width="23" height="3" rx="1.5" fill="#f2c05a"/>
 <rect x="8" y="2" width="10" height="2.5" fill="#8a6a30"/>
 <rect x="7" y="7.5" width="12" height="3.5" fill="#a29a8a"/>
 <rect x="6" y="13" width="14" height="7" fill="#3a3a3a"/>
 <rect x="11" y="13.5" width="5" height="5" fill="#555"/>
 <rect x="9.5" y="20" width="7" height="9.5" fill="#6a6a6a"/>
 <rect x="10.5" y="21" width="5" height="8" fill="#a8a8a8"/>
</symbol>
<linearGradient id="cpg" x1="0" y1="0" x2="1" y2="0"><stop offset="0" stop-color="#e84a2a"/><stop offset="0.3" stop-color="#f8b8a0"/><stop offset="0.6" stop-color="#ee5a36"/><stop offset="1" stop-color="#d83a1e"/></linearGradient>
<symbol id="cp" viewBox="0 0 12 15" preserveAspectRatio="none">
 <rect x="0" y="0" width="12" height="15" rx="1" fill="url(#cpg)"/>
 <rect x="2" y="4.5" width="8" height="5.5" fill="#f4e8da"/>
 <rect x="2.6" y="5.6" width="6.8" height="3.2" fill="#6a5a48"/>
 <rect x="3.2" y="6.3" width="5.6" height="1.6" fill="#c8a878"/>
 <circle cx="9.3" cy="12.6" r="1" fill="#3a3a3a"/>
</symbol>
<symbol id="gd" viewBox="0 0 16 14" preserveAspectRatio="none">
 <path d="M2.5,1.5 L13.5,1.5 L15.5,4 L15.5,10 L13.5,12.5 L2.5,12.5 L0.5,10 L0.5,4Z" fill="#a4ada6" stroke="#4f7a56" stroke-width="0.9"/>
 <rect x="2.3" y="3.2" width="11.4" height="7.6" rx="2" fill="#dadedb"/>
 <circle cx="6.2" cy="6.9" r="1.8" fill="#111"/>
 <rect x="6.5" y="0" width="3" height="1.6" fill="#6a7a6e"/>
 <path d="M2.5,14 L4,12.2 L7,12.2 L6,14Z" fill="#222"/>
</symbol>
<linearGradient id="hng" x1="0" y1="0" x2="0" y2="1"><stop offset="0" stop-color="#6c7074"/><stop offset="0.5" stop-color="#50545a"/><stop offset="1" stop-color="#33363a"/></linearGradient>
<symbol id="horn" viewBox="0 0 20 15" preserveAspectRatio="none">
 <path d="M5,10 L4,14.5 L10,12" fill="none" stroke="#8a8a8a" stroke-width="0.7"/>
 <path d="M0.3,4.2 Q0,3 2,2.8 L6,3.2 L15.5,0.4 L17.5,0.4 L17.5,14.6 L15.5,14.6 L6,10.5 L2,10.8 Q0,10.6 0.3,9.5Z" fill="url(#hng)"/>
 <ellipse cx="17.6" cy="7.5" rx="2.3" ry="7.1" fill="#26282b"/>
 <ellipse cx="17.9" cy="7.5" rx="1.1" ry="3.8" fill="#45484c"/>
</symbol>
<linearGradient id="bcg" x1="0" y1="0" x2="1" y2="0"><stop offset="0" stop-color="#d82810"/><stop offset="0.45" stop-color="#ff7a50"/><stop offset="1" stop-color="#c81e0c"/></linearGradient>
<symbol id="bcn" viewBox="0 0 11 16" preserveAspectRatio="none">
 <path d="M1.3,12 L1.9,2.2 Q5.5,0 9.1,2.2 L9.7,12Z" fill="url(#bcg)"/>
 <rect x="0" y="11.3" width="11" height="4.7" rx="0.8" fill="#121212"/>
 <rect x="0.5" y="11.5" width="10" height="1" fill="#3a3a3a"/>
</symbol>
<symbol id="smk" viewBox="0 0 20 16" preserveAspectRatio="none">
 <ellipse cx="10" cy="12" rx="8.5" ry="4" fill="#c9b8bd"/>
 <rect x="1.5" y="8" width="17" height="4" fill="#c9b8bd"/>
 <rect x="0.5" y="6" width="19" height="4" fill="#3a3436"/>
 <ellipse cx="10" cy="5.5" rx="9.5" ry="5" fill="#e6e4e4"/>
 <ellipse cx="10" cy="4.3" rx="5" ry="2.5" fill="#f8f8f8" stroke="#c8c8c8" stroke-width="0.5"/>
</symbol>
<linearGradient id="fgb" x1="0" y1="0" x2="1" y2="1"><stop offset="0" stop-color="#2aa8e6"/><stop offset="1" stop-color="#1262b0"/></linearGradient>
<linearGradient id="fgg" x1="0" y1="0" x2="1" y2="1"><stop offset="0" stop-color="#c8f0d0"/><stop offset="0.35" stop-color="#4cc07a"/><stop offset="1" stop-color="#158a48"/></linearGradient>
<symbol id="fgp" viewBox="0 0 32 32" preserveAspectRatio="none">
 <polygon points="27.4,2 31.5,4 31.5,30 27.4,31.6" fill="#c4c4c4"/>
 <polygon points="0.3,4 21.5,1.2 21.5,31.8 0.3,31.4" fill="#2e2e2e"/>
 <polygon points="1.1,4.7 21.3,2.2 21.3,31 1.1,30.6" fill="#d9d9d9"/>
 <polygon points="21.3,1.2 27.6,0.4 27.6,32 21.3,31.9" fill="#252525"/>
 <rect x="23.2" y="2" width="1.6" height="29" fill="#5a5a5a"/>
 <rect x="7.5" y="4.2" width="9" height="6.6" fill="url(#fgb)"/>
 <rect x="1.6" y="15.5" width="14.3" height="14.6" fill="url(#fgg)"/>
 <rect x="16.3" y="15" width="4.6" height="12" fill="#b5b5b5"/>
 <rect x="16.3" y="17.5" width="4.6" height="1.5" fill="#888"/>
 <rect x="16.3" y="27.6" width="4.6" height="2.8" fill="#a02626"/>
 <rect x="2" y="6" width="4" height="1.2" fill="#bbb"/><rect x="17.5" y="5" width="1.2" height="4" fill="#b09070"/>
</symbol>
<symbol id="swg" viewBox="0 0 42 44" preserveAspectRatio="none">
 <rect x="0" y="0" width="42" height="44" fill="#8e8e8e"/>
 <rect x="0.8" y="0.8" width="40.4" height="42.4" fill="#bdbdbd"/>
 <rect x="0.8" y="0.8" width="40.4" height="2.2" fill="#9a9a9a"/>
 <rect x="13" y="1" width="1" height="42" fill="#9a9a9a"/>
 <rect x="28.5" y="1" width="1" height="42" fill="#9a9a9a"/>
 <rect x="1" y="21.5" width="12" height="0.7" fill="#a5a5a5"/>
 <rect x="14" y="22" width="14.5" height="0.7" fill="#a5a5a5"/>
 <g fill="#3e3e3e">
  <rect x="2" y="5" width="8" height="1.5" fill="#7a7a7a"/><rect x="2" y="8.5" width="9" height="1.5" fill="#6a6a6a"/>
  <rect x="5" y="11.5" width="2.6" height="3"/><rect x="9" y="12" width="1.6" height="2.5"/>
  <rect x="5" y="17.5" width="2.6" height="3"/><rect x="9" y="18" width="1.6" height="2.5"/>
  <rect x="5" y="23.8" width="2.6" height="3"/><rect x="9" y="24.3" width="1.6" height="2.5"/>
  <rect x="6" y="32" width="2" height="2"/>
  <rect x="17" y="5.5" width="4" height="2.4"/><rect x="22" y="5.5" width="1.5" height="2.4"/>
  <rect x="15" y="10.5" width="8" height="5" fill="#4a4a4a"/>
  <rect x="22" y="31" width="2" height="2.6"/>
  <rect x="16" y="35" width="2.6" height="3.3"/><rect x="19.5" y="35" width="2.6" height="3.3"/>
  <rect x="34" y="5" width="2.6" height="3"/><rect x="37.5" y="5.5" width="1.6" height="2.5"/>
  <rect x="33.5" y="14" width="2" height="2"/>
  <rect x="34" y="21" width="2.6" height="3"/><rect x="37.5" y="21.5" width="1.6" height="2.5"/>
  <rect x="34" y="25.5" width="3" height="3"/>
  <rect x="37.5" y="30.5" width="1.6" height="2.5"/>
  <rect x="31" y="38.5" width="4" height="2" fill="#5a5a5a"/>
 </g>
 <rect x="15.5" y="11.3" width="6.5" height="3.2" fill="#5b6a64"/>
 <rect x="0.8" y="41.8" width="40.4" height="1.4" fill="#8a8a8a"/>
</symbol>
<symbol id="vfd" viewBox="0 0 27 28" preserveAspectRatio="none">
 <rect x="0" y="0" width="5.2" height="28" fill="#e9ecea" stroke="#5d6d64" stroke-width="0.7"/>
 <g fill="#b8c2bc"><rect x="1.3" y="3" width="2.6" height="2"/><rect x="1.3" y="7" width="2.6" height="2"/><rect x="1.3" y="11" width="2.6" height="2"/><rect x="1.3" y="15" width="2.6" height="2"/><rect x="1.3" y="19" width="2.6" height="2"/><rect x="1.3" y="23" width="2.6" height="2"/></g>
 <rect x="5.2" y="0" width="21.8" height="21.5" fill="#151515"/>
 <rect x="12.8" y="2.6" width="8.4" height="5.4" fill="#a9c77a"/>
 <rect x="9" y="10" width="3" height="1" fill="#3a3a3a"/>
 <circle cx="20" cy="14.5" r="1.1" fill="#c02828"/>
 <circle cx="16" cy="12" r="0.8" fill="#2a6a3a"/>
 <rect x="5.2" y="21.5" width="21.8" height="6.5" fill="#f3f3f3"/>
 <rect x="11" y="23.2" width="7" height="1.2" fill="#c83030"/>
 <rect x="19" y="25.5" width="6" height="0.8" fill="#999"/>
</symbol>
<symbol id="rly" viewBox="0 0 19 22" preserveAspectRatio="none">
 <rect x="0" y="0" width="19" height="22" rx="1" fill="#24272c"/>
 <rect x="1.2" y="1.2" width="16.6" height="19.6" fill="#2e3238"/>
 <rect x="3" y="2.5" width="13" height="4" fill="#454a52"/>
 <rect x="5" y="3.3" width="8" height="1.8" fill="#8c98a2"/>
 <rect x="3.5" y="8.5" width="12" height="5" fill="#363b42"/>
 <rect x="5" y="15" width="3" height="2" fill="#4a5d80"/><rect x="9" y="15" width="3" height="2" fill="#4a5d80"/>
 <rect x="5" y="18" width="9" height="1" fill="#3c4450"/>
</symbol>
<pattern id="vgrid" width="2.2" height="2.2" patternUnits="userSpaceOnUse"><rect width="2.2" height="2.2" fill="#b3b6b9"/><path d="M0,0 H2.2 M0,0 V2.2" stroke="#8f9397" stroke-width="0.5"/></pattern>
<symbol id="gen" viewBox="0 0 68 57" preserveAspectRatio="none">
 <polygon points="0,4.2 17,0.6 17,55.5 0,52.5" fill="#d3d5d7"/>
 <polygon points="0,4.2 17,0.6 17,2.5 0,6" fill="#e8e9ea"/>
 <polygon points="17,0.6 68,6.5 68,52.5 17,55.5" fill="#e1e3e4"/>
 <polygon points="17,0.6 68,6.5 68,8 17,3" fill="#cfd1d3"/>
 <line x1="38" y1="3.2" x2="38" y2="54.2" stroke="#a8abae" stroke-width="0.6"/>
 <line x1="55" y1="5" x2="55" y2="53.3" stroke="#a8abae" stroke-width="0.6"/>
 <rect x="18.5" y="7.5" width="9" height="12" fill="url(#vgrid)"/>
 <rect x="28.8" y="8" width="8" height="11.5" fill="url(#vgrid)"/>
 <rect x="19" y="21.5" width="1.4" height="3" fill="#555"/><rect x="22" y="21.5" width="3" height="3" fill="#8a8d90"/>
 <rect x="36.5" y="28" width="1.3" height="3" fill="#444"/>
 <rect x="18.5" y="41" width="18" height="12.5" fill="url(#vgrid)"/>
 <rect x="40" y="14" width="13.5" height="31" fill="url(#vgrid)"/>
 <rect x="56.5" y="14.5" width="10.5" height="29" fill="url(#vgrid)"/>
 <rect x="39" y="46" width="5" height="7" fill="url(#vgrid)"/>
 <rect x="46.5" y="47.5" width="2" height="2" fill="#d03030"/><rect x="61" y="46.5" width="2" height="2" fill="#d03030"/>
 <rect x="2" y="6" width="2" height="2" fill="#333"/><rect x="31" y="3.5" width="1.8" height="1.8" fill="#333"/>
 <rect x="47" y="4.5" width="2.5" height="1.5" fill="#e0b030"/>
</symbol>
</defs>
<rect width="948" height="533" fill="#fff"/>
<use href="#pc" x="17.5" y="46" width="45" height="34"/>
<use href="#pc" x="80" y="46" width="45" height="34"/>
<use href="#pc" x="143" y="46" width="45" height="34"/>
<use href="#prn" x="200" y="49" width="30" height="31"/>
<text x="101.5" y="96.5" font-size="7" font-weight="bold" fill="#111" text-anchor="middle" >Operator Stations</text>
<line x1="19" y1="104.5" x2="181" y2="104.5" stroke="#23498a" stroke-width="1.5" stroke-dasharray="3.8 3"/>
<line x1="100.5" y1="104.5" x2="100.5" y2="150.5" stroke="#23498a" stroke-width="1.5" stroke-dasharray="3.8 3"/>
<use href="#pc" x="365.5" y="42" width="45.5" height="34"/>
<text x="390.5" y="94.5" font-size="7" font-weight="bold" fill="#111" text-anchor="middle" >Asset Management</text>
<line x1="391" y1="104.5" x2="391" y2="150.5" stroke="#23498a" stroke-width="1.5" stroke-dasharray="3.8 3"/>
<use href="#pc" x="489.5" y="42.5" width="45" height="34"/>
<text x="514.5" y="95.5" font-size="7" font-weight="bold" fill="#111" text-anchor="middle" >Plant Security &amp; Comms</text>
<line x1="513" y1="104.5" x2="513" y2="150.5" stroke="#23498a" stroke-width="1.5" stroke-dasharray="3.8 3"/>
<text x="622.5" y="22.4" font-size="7" font-weight="bold" fill="#111" text-anchor="middle" >Firewall</text>
<g transform="translate(611,32)">
 <path d="M7.4,0.6 C4.2,2.2 1,5 0.9,9 C0.8,12.2 3.2,14 6,14 C8.8,14 10.9,12.2 11,9.8 C11.1,8 10.2,6.8 9.2,5.8 C9.4,7.4 8.8,8.6 7.8,9 C8.6,6.5 7,3.5 7.4,0.6Z" fill="#2d3e50"/>
 <polygon points="11.2,3.2 13.4,3.2 12.5,5.6 10.5,5.6" fill="#2d3e50"/>
 <rect x="14.2" y="3.3" width="2.6" height="2.4" rx="0.5" fill="#2d3e50"/><rect x="17.4" y="3.3" width="2.8" height="2.4" rx="0.5" fill="#2d3e50"/>
 <rect x="12.4" y="7.6" width="7.8" height="2.4" rx="0.6" fill="#2d3e50"/>
 <polygon points="10.5,13.9 12.5,13.9 13.4,11.6 11.2,11.6" fill="#2d3e50"/>
 <rect x="14.2" y="11.7" width="2.6" height="2.4" rx="0.5" fill="#2d3e50"/><rect x="17.4" y="11.7" width="2.8" height="2.4" rx="0.5" fill="#2d3e50"/>
</g>
<rect x="619.3" y="49" width="2" height="2.5" fill="#34495e"/>
<use href="#rbox" x="611.7" y="51.2" width="28.3" height="8.8"/>
<line x1="587.6" y1="56.2" x2="611.7" y2="56.2" stroke="#1fa25a" stroke-width="1.5" stroke-dasharray="3.8 3"/>
<line x1="640" y1="56.2" x2="799.5" y2="56.2" stroke="#1fa25a" stroke-width="1.5" stroke-dasharray="3.8 3"/>
<line x1="799.5" y1="45.7" x2="799.5" y2="56.2" stroke="#1fa25a" stroke-width="1.5" stroke-dasharray="3.8 3"/>
<line x1="587.6" y1="56.2" x2="587.6" y2="74.3" stroke="#1fa25a" stroke-width="1.5" stroke-dasharray="3.8 3"/>
<line x1="587.6" y1="74.3" x2="881" y2="74.3" stroke="#1fa25a" stroke-width="1.5" stroke-dasharray="3.8 3"/>
<line x1="706.5" y1="44.5" x2="706.5" y2="56.2" stroke="#1fa25a" stroke-width="1.5" stroke-dasharray="3.8 3"/>
<line x1="625" y1="74.3" x2="625" y2="92" stroke="#1fa25a" stroke-width="1.5" stroke-dasharray="3.8 3"/>
<line x1="710.4" y1="74.3" x2="710.4" y2="92" stroke="#1fa25a" stroke-width="1.5" stroke-dasharray="3.8 3"/>
<line x1="800" y1="74.3" x2="800" y2="92" stroke="#1fa25a" stroke-width="1.5" stroke-dasharray="3.8 3"/>
<line x1="881" y1="74.3" x2="881" y2="90.5" stroke="#1fa25a" stroke-width="1.5" stroke-dasharray="3.8 3"/>
<text x="709.7" y="69.4" font-size="10" font-weight="normal" fill="#1aa058" text-anchor="start" >Business LAN</text>
<use href="#pc" x="686" y="10" width="39.5" height="30.4"/>
<use href="#ant" x="787" y="10" width="16" height="13.5"/>
<use href="#rbox" x="786.2" y="23.9" width="27.5" height="8.9"/>
<text x="800.5" y="39.9" font-size="7" font-weight="normal" fill="#555" text-anchor="middle" >Router</text>
<use href="#ant" x="848.6" y="12.5" width="16" height="13.7"/>
<use href="#rbox" x="848.2" y="26.2" width="27.8" height="8.4"/>
<g stroke="#a8a8a8" fill="#a8a8a8"><line x1="816" y1="15.1" x2="840" y2="15.1" stroke-width="1.3"/><polygon points="813.7,15.1 818.5,12.3 818.5,17.9" stroke="none"/><polygon points="842,15.1 837.2,12.3 837.2,17.9" stroke="none"/></g>
<line x1="876" y1="30.5" x2="896" y2="30.5" stroke="#e02020" stroke-width="1.5" stroke-dasharray="3.8 3"/>
<use href="#pc" x="896" y="11.5" width="39.6" height="30.7"/>
<text x="919.3" y="53.2" font-size="7" font-weight="bold" fill="#111" text-anchor="middle" >Remote</text>
<text x="919.1" y="60.3" font-size="7" font-weight="bold" fill="#111" text-anchor="middle" >client</text>
<use href="#srv" x="598" y="94.5" width="51" height="15.5"/>
<text x="625" y="121.5" font-size="7" font-weight="bold" fill="#111" text-anchor="middle" >OPC</text>
<text x="625" y="129" font-size="7" font-weight="bold" fill="#111" text-anchor="middle" >Gateway</text>
<line x1="582" y1="102.5" x2="598" y2="102.5" stroke="#23498a" stroke-width="1.5" stroke-dasharray="3.8 3"/>
<line x1="582" y1="102.5" x2="582" y2="150.5" stroke="#23498a" stroke-width="1.5" stroke-dasharray="3.8 3"/>
<use href="#srv" x="685.5" y="92.3" width="51.5" height="15.7"/>
<text x="711" y="120" font-size="7" font-weight="bold" fill="#111" text-anchor="middle" >Remote Client</text>
<text x="711" y="128.5" font-size="7" font-weight="bold" fill="#111" text-anchor="middle" >Gateway</text>
<line x1="668.5" y1="102.5" x2="685.5" y2="102.5" stroke="#23498a" stroke-width="1.5" stroke-dasharray="3.8 3"/>
<line x1="668.5" y1="102.5" x2="668.5" y2="150.5" stroke="#23498a" stroke-width="1.5" stroke-dasharray="3.8 3"/>
<use href="#srv" x="775.5" y="92" width="51.5" height="16"/>
<text x="800.5" y="120.5" font-size="7" font-weight="bold" fill="#111" text-anchor="middle" >Historian</text>
<line x1="758.5" y1="101" x2="775.5" y2="101" stroke="#23498a" stroke-width="1.5" stroke-dasharray="3.8 3"/>
<line x1="758.5" y1="101" x2="758.5" y2="150.5" stroke="#23498a" stroke-width="1.5" stroke-dasharray="3.8 3"/>
<use href="#srv" x="854" y="90.5" width="52" height="17"/>
<text x="883" y="120" font-size="7" font-weight="bold" fill="#111" text-anchor="middle" >Advanced</text>
<text x="883" y="127.5" font-size="7" font-weight="bold" fill="#111" text-anchor="middle" >Productivity</text>
<text x="883" y="136.2" font-size="7" font-weight="bold" fill="#111" text-anchor="middle" >Applications</text>
<line x1="839" y1="101" x2="854" y2="101" stroke="#23498a" stroke-width="1.5" stroke-dasharray="3.8 3"/>
<line x1="839" y1="101" x2="839" y2="150.5" stroke="#23498a" stroke-width="1.5" stroke-dasharray="3.8 3"/>
<text x="194.5" y="135.5" font-size="7" font-weight="bold" fill="#1c6db5" text-anchor="middle" >Real Time Data Management</text>
<text x="194.5" y="143.6" font-size="7" font-weight="bold" fill="#1c6db5" text-anchor="middle" >(RTDMS) / SCADA LAN</text>
<line x1="22" y1="150.5" x2="923.5" y2="150.5" stroke="#23498a" stroke-width="1.5" stroke-dasharray="3.8 3"/>
<line x1="27.5" y1="161.3" x2="931" y2="161.3" stroke="#c76b2b" stroke-width="1.5" stroke-dasharray="3.8 3"/>
<text x="156.1" y="174" font-size="7" font-weight="bold" fill="#b9602a" text-anchor="start" >Integration LAN</text>
<use href="#srv" x="55.5" y="181.8" width="51.5" height="16.2"/>
<line x1="76" y1="150.5" x2="76" y2="180.5" stroke="#23498a" stroke-width="1.5" stroke-dasharray="3.8 3"/>
<line x1="84.5" y1="162.5" x2="84.5" y2="180.5" stroke="#c76b2b" stroke-width="1.5" stroke-dasharray="3.8 3"/>
<text x="90.5" y="208.4" font-size="7" font-weight="bold" fill="#111" text-anchor="middle" >Process Control System</text>
<use href="#srv" x="255" y="181.8" width="51.5" height="16.2"/>
<line x1="275" y1="150.5" x2="275" y2="180.5" stroke="#23498a" stroke-width="1.5" stroke-dasharray="3.8 3"/>
<line x1="283" y1="162.5" x2="283" y2="180.5" stroke="#c76b2b" stroke-width="1.5" stroke-dasharray="3.8 3"/>
<text x="282.7" y="209.5" font-size="7" font-weight="bold" fill="#111" text-anchor="middle" >Auxiliary Process System</text>
<use href="#srv" x="411" y="181.8" width="51.5" height="16.2"/>
<line x1="432" y1="150.5" x2="432" y2="180.5" stroke="#23498a" stroke-width="1.5" stroke-dasharray="3.8 3"/>
<line x1="440" y1="162.5" x2="440" y2="180.5" stroke="#c76b2b" stroke-width="1.5" stroke-dasharray="3.8 3"/>
<text x="440" y="207.8" font-size="7" font-weight="bold" fill="#111" text-anchor="middle" >Safety Control System</text>
<use href="#srv" x="592" y="181.8" width="51.5" height="16.2"/>
<line x1="612" y1="150.5" x2="612" y2="180.5" stroke="#23498a" stroke-width="1.5" stroke-dasharray="3.8 3"/>
<line x1="620" y1="162.5" x2="620" y2="180.5" stroke="#c76b2b" stroke-width="1.5" stroke-dasharray="3.8 3"/>
<text x="628.5" y="208.2" font-size="7" font-weight="bold" fill="#111" text-anchor="middle" >Fire &amp; Gas Control System</text>
<use href="#srv" x="787" y="181.8" width="51.5" height="16.2"/>
<line x1="808" y1="150.5" x2="808" y2="180.5" stroke="#23498a" stroke-width="1.5" stroke-dasharray="3.8 3"/>
<line x1="815" y1="162.5" x2="815" y2="180.5" stroke="#c76b2b" stroke-width="1.5" stroke-dasharray="3.8 3"/>
<text x="821" y="208.2" font-size="7" font-weight="bold" fill="#111" text-anchor="middle" >Power Management System</text>
<line x1="36.5" y1="189" x2="36.5" y2="281" stroke="#26a65b" stroke-width="1.5" stroke-dasharray="3.8 3"/>
<line x1="36.5" y1="189" x2="55.5" y2="189" stroke="#26a65b" stroke-width="1.5" stroke-dasharray="3.8 3"/>
<line x1="36.5" y1="245.5" x2="61" y2="245.5" stroke="#26a65b" stroke-width="1.5" stroke-dasharray="3.8 3"/>
<line x1="36.5" y1="281" x2="132.5" y2="281" stroke="#26a65b" stroke-width="1.5" stroke-dasharray="3.8 3"/>
<line x1="61" y1="281" x2="61" y2="288" stroke="#26a65b" stroke-width="1.5" stroke-dasharray="3.8 3"/>
<line x1="132.5" y1="281" x2="132.5" y2="288" stroke="#26a65b" stroke-width="1.5" stroke-dasharray="3.8 3"/>
<text transform="translate(29.8,220.7) rotate(-90)" font-size="8" fill="#26a65b" text-anchor="middle">PCS Control LAN</text>
<use href="#lap" x="62" y="226.4" width="37" height="32"/>
<text x="78.4" y="271.5" font-size="7" font-weight="bold" fill="#111" text-anchor="middle" >EWS</text>
<line x1="67.5" y1="287.2" x2="159" y2="287.2" stroke="#d0d0d0" stroke-width="0.8"/>
<use href="#clx" x="32" y="290.7" width="84" height="33"/>
<use href="#clx" x="122" y="290.7" width="84" height="33"/>
<text x="103.7" y="340" font-size="7" font-weight="bold" fill="#111" text-anchor="middle" >PCS Controller</text>
<line x1="67" y1="324" x2="67" y2="424.3" stroke="#1d78c1" stroke-width="1.5" stroke-dasharray="3.8 3"/>
<line x1="67" y1="346" x2="169" y2="346" stroke="#1d78c1" stroke-width="1.5" stroke-dasharray="3.8 3"/>
<line x1="169" y1="324" x2="169" y2="346" stroke="#1d78c1" stroke-width="1.5" stroke-dasharray="3.8 3"/>
<line x1="67" y1="375" x2="80" y2="375" stroke="#1d78c1" stroke-width="1.5" stroke-dasharray="3.8 3"/>
<line x1="67" y1="424.3" x2="78" y2="424.3" stroke="#1f9a6a" stroke-width="1.5" stroke-dasharray="3.8 3"/>
<text transform="translate(61.6,379.6) rotate(-90)" font-size="8" fill="#3a62aa" text-anchor="middle">PCS IOs LAN</text>
<use href="#cmpx" x="79.5" y="361.3" width="111.5" height="31.2"/>
<text x="82" y="403.5" font-size="7" font-weight="bold" fill="#111" text-anchor="start" >PCS RIO#1</text>
<use href="#rio2" x="78" y="413" width="105" height="37.5"/>
<text x="78" y="462.5" font-size="7" font-weight="bold" fill="#111" text-anchor="start" >PCS RIO#2</text>
<line x1="191" y1="386.4" x2="199" y2="386.4" stroke="#4a4a4a" stroke-width="1.15" stroke-dasharray="1.4 2.1"/>
<line x1="199" y1="386.4" x2="199" y2="480" stroke="#4a4a4a" stroke-width="1.15" stroke-dasharray="1.4 2.1"/>
<line x1="183" y1="442" x2="199" y2="442" stroke="#4a4a4a" stroke-width="1.15" stroke-dasharray="1.4 2.1"/>
<line x1="72.5" y1="479.8" x2="199" y2="479.8" stroke="#4a4a4a" stroke-width="1.15" stroke-dasharray="1.4 2.1"/>
<line x1="72.5" y1="479.8" x2="72.5" y2="487.5" stroke="#4a4a4a" stroke-width="1.15" stroke-dasharray="1.4 2.1"/>
<line x1="115.5" y1="479.8" x2="115.5" y2="487.5" stroke="#4a4a4a" stroke-width="1.15" stroke-dasharray="1.4 2.1"/>
<line x1="158" y1="479.8" x2="158" y2="487.5" stroke="#4a4a4a" stroke-width="1.15" stroke-dasharray="1.4 2.1"/>
<text x="135.7" y="527" font-size="7" font-weight="bold" fill="#111" text-anchor="middle" >Transmitters and Control Valves</text>
<line x1="233.6" y1="194" x2="233.6" y2="291.5" stroke="#cfa124" stroke-width="1.5" stroke-dasharray="3.8 3"/>
<line x1="233.6" y1="194" x2="255" y2="194" stroke="#cfa124" stroke-width="1.5" stroke-dasharray="3.8 3"/>
<line x1="233.6" y1="241" x2="259.5" y2="241" stroke="#cfa124" stroke-width="1.5" stroke-dasharray="3.8 3"/>
<line x1="233.6" y1="291.5" x2="254.4" y2="291.5" stroke="#cfa124" stroke-width="1.5" stroke-dasharray="3.8 3"/>
<line x1="301.3" y1="291.5" x2="328" y2="291.5" stroke="#cfa124" stroke-width="1.5" stroke-dasharray="3.8 3"/>
<line x1="328" y1="291.5" x2="328" y2="448" stroke="#cfa124" stroke-width="1.5" stroke-dasharray="3.8 3"/>
<line x1="295.3" y1="341.4" x2="328" y2="341.4" stroke="#cfa124" stroke-width="1.5" stroke-dasharray="3.8 3"/>
<line x1="288.7" y1="397.8" x2="328" y2="397.8" stroke="#cfa124" stroke-width="1.5" stroke-dasharray="3.8 3"/>
<line x1="303.8" y1="448" x2="328" y2="448" stroke="#cfa124" stroke-width="1.5" stroke-dasharray="3.8 3"/>
<text transform="translate(227.1,234.6) rotate(-90)" font-size="8" fill="#b8641e" text-anchor="middle"><tspan font-weight="bold">Auxiliary</tspan> System LAN</text>
<use href="#lap" x="260.5" y="224.6" width="37.5" height="32.5"/>
<text x="277" y="269.5" font-size="7" font-weight="bold" fill="#111" text-anchor="middle" >EWS</text>
<g>
 <rect x="254.8" y="284.4" width="46.2" height="13.6" rx="2" fill="#f3f3f6" stroke="#3b3b3b" stroke-width="0.9"/>
 <rect x="291.5" y="284.4" width="9.5" height="13.6" rx="1.5" fill="#5b5b5b"/>
 <circle cx="261.8" cy="288.6" r="0.9" fill="#333"/><circle cx="264.6" cy="288.6" r="0.9" fill="#333"/>
 <rect x="270" y="290" width="3.2" height="2.6" fill="#333"/><rect x="274.6" y="290" width="3.2" height="2.6" fill="#333"/>
 <rect x="279.2" y="290" width="3.2" height="2.6" fill="#333"/><rect x="283.8" y="290" width="3.2" height="2.6" fill="#333"/>
</g>
<text x="276" y="309.9" font-size="7" font-weight="bold" fill="#111" text-anchor="middle" >PLC Gateway</text>
<g>
 <rect x="268" y="326.3" width="19" height="28" fill="#4d4949"/>
 <rect x="270" y="327.5" width="2.2" height="26" fill="#7a7474"/><rect x="273.6" y="327.5" width="2.2" height="26" fill="#6e6868"/>
 <rect x="277.2" y="327.5" width="2.2" height="26" fill="#7a7474"/><rect x="280.8" y="327.5" width="2.2" height="26" fill="#8a8478"/>
 <rect x="284" y="327.5" width="2" height="26" fill="#625c5c"/>
 <polygon points="286,326 292,325.5 294.5,327 294.5,353.5 292,355 286,354.5" fill="#4f4b4b"/>
 <circle cx="288.5" cy="340" r="1.7" fill="#a8b4c8"/>
 <polygon points="258,324.4 268.3,320.2 268.3,361.4 258,358.6" fill="#5d6c92"/>
 <polygon points="258,324.4 268.3,320.2 268.3,323 258,327" fill="#b8c0cc"/>
 <polygon points="259.6,327.5 265.8,326 265.8,346 259.6,346" fill="#f6f7f9"/>
 <polygon points="258.5,350 267.5,350 267.5,358 258.5,356" fill="#8a94a8"/>
 <rect x="263.5" y="351.5" width="2.4" height="2.4" fill="#1a1a1a"/>
</g>
<text x="282.7" y="370.8" font-size="7" font-weight="bold" fill="#111" text-anchor="middle" >Vibration Monitoring</text>
<g>
 <polygon points="269.3,381 275.9,378.2 275.9,415.8 269.3,412" fill="#b9c6e6"/>
 <rect x="275.9" y="378.2" width="12.8" height="37.6" fill="#2aa49b"/>
 <rect x="277.6" y="382.5" width="8.6" height="7" fill="#c6d77a"/>
 <circle cx="282" cy="395" r="2" fill="#1d8a82"/>
 <g fill="#7ad0c8"><rect x="277.5" y="400" width="2" height="1.3"/><rect x="281" y="400" width="2" height="1.3"/><rect x="284.5" y="400" width="2" height="1.3"/>
 <rect x="277.5" y="403" width="2" height="1.3"/><rect x="281" y="403" width="2" height="1.3"/><rect x="284.5" y="403" width="2" height="1.3"/>
 <rect x="277.5" y="406" width="2" height="1.3"/><rect x="281" y="406" width="2" height="1.3"/><rect x="284.5" y="406" width="2" height="1.3"/></g>
</g>
<text x="285" y="425.3" font-size="7" font-weight="bold" fill="#111" text-anchor="middle" >Flow Computer</text>
<g>
 <rect x="261" y="434.3" width="42.8" height="26.4" fill="#101010"/>
 <g fill="#5cd06a"><rect x="273" y="438.7" width="3" height="5"/><rect x="278.5" y="438.7" width="3" height="5"/>
 <rect x="284" y="438.7" width="3" height="20.5"/><rect x="289.2" y="438.7" width="3" height="20.5"/>
 <rect x="294.4" y="438.7" width="3" height="20.5"/><rect x="299.4" y="438.7" width="3" height="20.5"/></g>
 <g fill="none" stroke="#888" stroke-width="0.5"><rect x="263" y="446" width="3" height="3"/><rect x="267" y="446" width="3" height="3"/><rect x="263" y="451" width="3" height="3"/><rect x="267" y="451" width="3" height="3"/></g>
 <rect x="262" y="435.3" width="40" height="1.3" fill="#444"/>
</g>
<text x="278.2" y="471" font-size="7" font-weight="bold" fill="#111" text-anchor="middle" >SCADA RTU</text>
<line x1="289" y1="461" x2="289" y2="479.5" stroke="#4a4a4a" stroke-width="1.15" stroke-dasharray="1.4 2.1"/>
<line x1="252.5" y1="479.5" x2="327" y2="479.5" stroke="#4a4a4a" stroke-width="1.15" stroke-dasharray="1.4 2.1"/>
<line x1="252.5" y1="479.5" x2="252.5" y2="487" stroke="#4a4a4a" stroke-width="1.15" stroke-dasharray="1.4 2.1"/>
<line x1="327" y1="479.5" x2="327" y2="487" stroke="#4a4a4a" stroke-width="1.15" stroke-dasharray="1.4 2.1"/>
<text x="298" y="527" font-size="7" font-weight="bold" fill="#111" text-anchor="middle" >Transmitters and Control Valves</text>
<line x1="390" y1="193.4" x2="390" y2="302" stroke="#b7232f" stroke-width="1.5" stroke-dasharray="3.8 3"/>
<line x1="390" y1="193.4" x2="411" y2="193.4" stroke="#b7232f" stroke-width="1.5" stroke-dasharray="3.8 3"/>
<line x1="390" y1="237.3" x2="421" y2="237.3" stroke="#b7232f" stroke-width="1.5" stroke-dasharray="3.8 3"/>
<line x1="390" y1="302" x2="408" y2="302" stroke="#b7232f" stroke-width="1.5" stroke-dasharray="3.8 3"/>
<text transform="translate(383.3,245.8) rotate(-90)" font-size="8" fill="#b7232f" text-anchor="middle" font-weight="bold">ESS Control &amp; Safety <tspan font-weight="normal" font-size="10">LAN</tspan></text>
<use href="#lap" x="421.5" y="221" width="37.5" height="32.5"/>
<text x="438" y="266.5" font-size="7" font-weight="bold" fill="#111" text-anchor="middle" >EWS</text>
<use href="#sfc" x="408.2" y="284.5" width="89.8" height="36.8"/>
<text x="408.1" y="331.8" font-size="7" font-weight="bold" fill="#111" text-anchor="start" >Safety Controller</text>
<use href="#sio" x="408.8" y="346.8" width="89.2" height="39.8"/>
<text x="407" y="399.5" font-size="7" font-weight="bold" fill="#111" text-anchor="start" >Safety IO Rack</text>
<polyline points="498.4,309.7 507.5,309.7 507.5,368.9 498.4,368.9" fill="none" stroke="#555" stroke-width="0.9"/>
<text transform="translate(518.4,333) rotate(-90)" font-size="8" fill="#5a78b0" text-anchor="middle">Ios BUS</text>
<line x1="461" y1="386" x2="461" y2="480" stroke="#4a4a4a" stroke-width="1.15" stroke-dasharray="1.4 2.1"/>
<line x1="408" y1="480" x2="520" y2="480" stroke="#4a4a4a" stroke-width="1.15" stroke-dasharray="1.4 2.1"/>
<line x1="408" y1="480" x2="408" y2="488.5" stroke="#4a4a4a" stroke-width="1.15" stroke-dasharray="1.4 2.1"/>
<line x1="461" y1="480" x2="461" y2="488.5" stroke="#4a4a4a" stroke-width="1.15" stroke-dasharray="1.4 2.1"/>
<line x1="490" y1="480" x2="490" y2="488.5" stroke="#4a4a4a" stroke-width="1.15" stroke-dasharray="1.4 2.1"/>
<line x1="520" y1="480" x2="520" y2="488.5" stroke="#4a4a4a" stroke-width="1.15" stroke-dasharray="1.4 2.1"/>
<text x="394.5" y="527" font-size="7" font-weight="bold" fill="#111" text-anchor="start" >Valves</text>
<text x="465" y="527" font-size="7" font-weight="bold" fill="#111" text-anchor="start" >Transmitters</text>
<polyline points="490,283 499,273.2 606.5,273.2 616,283.5" fill="none" stroke="#666" stroke-width="0.9"/>
<polygon points="488,285 489,279 492.8,281.8" fill="#555"/><polygon points="618,285.5 613.4,282.3 617.2,279.4" fill="#555"/>
<text x="518.5" y="269.6" font-size="7" font-weight="normal" fill="#4a4a4a" text-anchor="middle" >Hard Wired IOs</text>
<polyline points="667,283.5 675,273.2 806,273.2 815,283.5" fill="none" stroke="#666" stroke-width="0.9"/>
<polygon points="665.5,285.5 666.2,279.5 670,282.2" fill="#555"/><polygon points="817,285.5 812.3,282.4 816,279.4" fill="#555"/>
<text x="701.5" y="270.5" font-size="7" font-weight="normal" fill="#4a4a4a" text-anchor="middle" >Hard Wired IOs</text>
<line x1="569.5" y1="192.2" x2="569.5" y2="428.5" stroke="#e5232b" stroke-width="1.5" stroke-dasharray="3.8 3"/>
<line x1="569.5" y1="192.2" x2="592" y2="192.2" stroke="#e5232b" stroke-width="1.5" stroke-dasharray="3.8 3"/>
<line x1="569.5" y1="236.1" x2="596" y2="236.1" stroke="#e5232b" stroke-width="1.5" stroke-dasharray="3.8 3"/>
<line x1="569.5" y1="303.2" x2="588" y2="303.2" stroke="#e5232b" stroke-width="1.5" stroke-dasharray="3.8 3"/>
<line x1="569.5" y1="428.5" x2="613.8" y2="428.5" stroke="#e5232b" stroke-width="1.5" stroke-dasharray="3.8 3"/>
<text transform="translate(563.2,244.3) rotate(-90)" font-size="8" fill="#e5232b" text-anchor="middle" font-weight="bold">F&amp;G Control &amp; Safety <tspan font-weight="normal" font-size="10">LAN</tspan></text>
<use href="#lap" x="596.5" y="219.6" width="37.5" height="32.5"/>
<text x="613" y="264.5" font-size="7" font-weight="bold" fill="#111" text-anchor="middle" >EWS</text>
<use href="#fgc" x="591" y="284.5" width="90" height="37.5"/>
<text x="591" y="331.5" font-size="7" font-weight="bold" fill="#111" text-anchor="start" >Fire &amp; Gas Controller</text>
<line x1="632.2" y1="335.6" x2="632.2" y2="357.2" stroke="#7a7a7a" stroke-width="1.0" stroke-dasharray="1.3 2.1"/>
<line x1="600.3" y1="357.2" x2="670.5" y2="357.2" stroke="#7a7a7a" stroke-width="1.0" stroke-dasharray="1.3 2.1"/>
<line x1="600.3" y1="357.2" x2="600.3" y2="368" stroke="#7a7a7a" stroke-width="1.0" stroke-dasharray="1.3 2.1"/>
<line x1="619.9" y1="357.2" x2="619.9" y2="368" stroke="#7a7a7a" stroke-width="1.0" stroke-dasharray="1.3 2.1"/>
<line x1="646.2" y1="357.2" x2="646.2" y2="368" stroke="#7a7a7a" stroke-width="1.0" stroke-dasharray="1.3 2.1"/>
<line x1="670.5" y1="357.2" x2="670.5" y2="368" stroke="#7a7a7a" stroke-width="1.0" stroke-dasharray="1.3 2.1"/>
<text x="637.7" y="394.8" font-size="7" font-weight="bold" fill="#111" text-anchor="middle" >Fire &amp; Gas Detector, Devices</text>
<line x1="645.3" y1="428.5" x2="686.7" y2="428.5" stroke="#6b6b6b" stroke-width="1.3" stroke-dasharray="3.5 2.5"/>
<line x1="686.7" y1="428.5" x2="686.7" y2="473.4" stroke="#6b6b6b" stroke-width="1.3" stroke-dasharray="3.5 2.5"/>
<line x1="597.2" y1="473.4" x2="686.7" y2="473.4" stroke="#6b6b6b" stroke-width="1.3" stroke-dasharray="3.5 2.5"/>
<line x1="597.2" y1="473.4" x2="597.2" y2="509.9" stroke="#6b6b6b" stroke-width="1.3" stroke-dasharray="3.5 2.5"/>
<line x1="597.2" y1="509.9" x2="666" y2="509.9" stroke="#6b6b6b" stroke-width="1.3" stroke-dasharray="3.5 2.5"/>
<text x="636" y="497.7" font-size="7" font-weight="bold" fill="#111" text-anchor="middle" >Addressable Loop</text>
<line x1="764.5" y1="192.7" x2="764.5" y2="498" stroke="#7c3ca6" stroke-width="1.5" stroke-dasharray="3.8 3"/>
<line x1="764.5" y1="192.7" x2="787" y2="192.7" stroke="#7c3ca6" stroke-width="1.5" stroke-dasharray="3.8 3"/>
<line x1="764.5" y1="236.6" x2="791" y2="236.6" stroke="#7c3ca6" stroke-width="1.5" stroke-dasharray="3.8 3"/>
<line x1="764.5" y1="303.2" x2="785" y2="303.2" stroke="#7c3ca6" stroke-width="1.5" stroke-dasharray="3.8 3"/>
<line x1="764.5" y1="360.6" x2="789" y2="360.6" stroke="#7c3ca6" stroke-width="1.5" stroke-dasharray="3.8 3"/>
<line x1="764.5" y1="406.5" x2="792" y2="406.5" stroke="#7c3ca6" stroke-width="1.5" stroke-dasharray="3.8 3"/>
<line x1="764.5" y1="443.5" x2="795" y2="443.5" stroke="#7c3ca6" stroke-width="1.5" stroke-dasharray="3.8 3"/>
<line x1="764.5" y1="498" x2="795" y2="498" stroke="#7c3ca6" stroke-width="1.5" stroke-dasharray="3.8 3"/>
<text transform="translate(758.2,233.7) rotate(-90)" font-size="8" fill="#6b2d9a" text-anchor="middle" font-weight="bold">Power Control <tspan font-weight="normal" font-size="10">LAN</tspan></text>
<use href="#lap" x="791.5" y="220" width="37.5" height="32.5"/>
<text x="809" y="265" font-size="7" font-weight="bold" fill="#111" text-anchor="middle" >EWS</text>
<use href="#cmpx" x="785.2" y="285.2" width="110.9" height="30.3"/>
<text x="838.4" y="327.1" font-size="7" font-weight="bold" fill="#111" text-anchor="middle" >Power Management Controller</text>
<text x="835.8" y="365.1" font-size="7" font-weight="bold" fill="#111" text-anchor="start" >Switchgear MCC</text>
<text x="821.3" y="407.3" font-size="7" font-weight="bold" fill="#111" text-anchor="start" >Speed Drives</text>
<text x="816.7" y="447" font-size="7" font-weight="bold" fill="#111" text-anchor="start" >Power Relays</text>
<text x="884.3" y="498.7" font-size="7" font-weight="bold" fill="#111" text-anchor="middle" >Generator</text>
<text x="884.5" y="506" font-size="7" font-weight="bold" fill="#111" text-anchor="middle" >Control</text>
<use href="#fm" x="64.7" y="485.9" width="17.2" height="27.5"/>
<use href="#mag" x="105.2" y="489.8" width="19.8" height="23.6"/>
<use href="#mag" x="151" y="489.5" width="12.3" height="23"/>
<use href="#tx" x="185.2" y="487.6" width="27.5" height="25.8"/>
<use href="#tx" x="240" y="487" width="27" height="25.5"/>
<use href="#mag" x="278" y="488" width="20" height="24.5"/>
<use href="#fm" x="319.5" y="486" width="18" height="28.5"/>
<use href="#valve" x="394.5" y="488.4" width="26" height="29.6"/>
<use href="#fm" x="451.7" y="489.3" width="16.8" height="27.5"/>
<use href="#mag" x="479.2" y="492.7" width="19.7" height="24.4"/>
<use href="#tx" x="508.2" y="490.5" width="27.3" height="26.3"/>
<use href="#cp" x="594.4" y="368.7" width="12.6" height="14.8"/>
<use href="#gd" x="612.4" y="368.7" width="15.8" height="13.5"/>
<use href="#horn" x="636.7" y="369.4" width="19.2" height="15"/>
<use href="#bcn" x="664.9" y="367.1" width="11.2" height="16.4"/>
<use href="#fgp" x="613.4" y="410.3" width="32" height="32"/>
<use href="#horn" x="604.7" y="466.2" width="18.8" height="15"/>
<use href="#gd" x="635.9" y="467" width="15.1" height="13"/>
<use href="#cp" x="666.8" y="464.4" width="11.8" height="15.3"/>
<use href="#bcn" x="608.1" y="500.9" width="11" height="16.1"/>
<use href="#smk" x="635.3" y="501.2" width="19" height="16.5"/>
<use href="#smk" x="665" y="501.2" width="19.8" height="16.5"/>
<use href="#swg" x="789.3" y="338.9" width="41.3" height="43.8"/>
<use href="#vfd" x="792" y="392" width="26.8" height="27.8"/>
<use href="#rly" x="795.5" y="433.3" width="18.5" height="22.3"/>
<use href="#gen" x="795" y="469.9" width="68" height="57"/>
</svg></body></html>
